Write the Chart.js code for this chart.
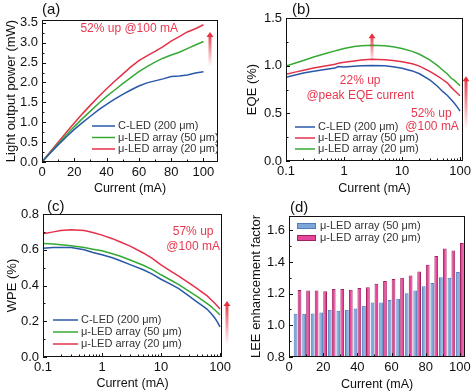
<!DOCTYPE html>
<html>
<head>
<meta charset="utf-8">
<script src="https://cdn.jsdelivr.net/npm/chart.js@4.4.0/dist/chart.umd.min.js"></script>
<style>
body { margin: 0; background: #fff; }
canvas { position: absolute; }
</style>
</head>
<body>
<canvas id="chartA" width="237" height="195" style="left:0;top:0"></canvas>
<canvas id="chartB" width="237" height="195" style="left:237px;top:0"></canvas>
<canvas id="chartC" width="237" height="196" style="left:0;top:195px"></canvas>
<canvas id="chartD" width="237" height="196" style="left:237px;top:195px"></canvas>
<script>
const FONT = '"Liberation Sans", Arial, sans-serif';
const RED = '#E5304A', GREEN = '#36A935', BLUE = '#2A58A8', NOTE = '#E8384F';

// (a) light output power vs current
const aCurrent = [0, 5, 10, 15, 20, 25, 30, 35, 40, 45, 50, 55, 60, 65, 70, 75, 80, 85, 90, 95, 100];
const aCLED = [0, 0.22, 0.43, 0.63, 0.82, 0.99, 1.15, 1.31, 1.45, 1.58, 1.70, 1.81, 1.91, 1.99, 2.04, 2.09, 2.15, 2.16, 2.19, 2.24, 2.27];
const a50 = [0, 0.23, 0.46, 0.68, 0.89, 1.09, 1.28, 1.47, 1.65, 1.81, 1.97, 2.12, 2.27, 2.40, 2.51, 2.61, 2.69, 2.76, 2.85, 2.94, 3.03];
const a20 = [0, 0.25, 0.50, 0.74, 0.98, 1.21, 1.43, 1.64, 1.84, 2.03, 2.21, 2.39, 2.55, 2.67, 2.78, 2.90, 3.04, 3.15, 3.27, 3.35, 3.45];
const aTicksX = [0, 20, 40, 60, 80, 100];
const aTicksY = [0, 0.5, 1.0, 1.5, 2.0, 2.5, 3.0, 3.5];

// (b) EQE vs current (log)
const bCurrent = [0.1, 0.15, 0.2, 0.3, 0.5, 0.7, 0.8, 1, 1.5, 2, 3, 5, 7, 10, 15, 20, 30, 40, 50, 60, 70, 80, 90, 100];
const bCLED = [0.877, 0.905, 0.922, 0.942, 0.962, 0.975, 0.99, 0.985, 0.995, 1.0, 1.003, 0.998, 0.988, 0.972, 0.945, 0.915, 0.85, 0.79, 0.73, 0.69, 0.645, 0.605, 0.565, 0.523];
const b50 = [0.91, 0.935, 0.952, 0.975, 1.0, 1.015, 1.025, 1.035, 1.05, 1.06, 1.066, 1.063, 1.055, 1.042, 1.02, 0.995, 0.94, 0.895, 0.855, 0.82, 0.775, 0.74, 0.71, 0.685];
const b20 = [0.995, 1.03, 1.055, 1.09, 1.13, 1.155, 1.165, 1.18, 1.2, 1.21, 1.215, 1.21, 1.198, 1.18, 1.15, 1.12, 1.06, 1.005, 0.955, 0.915, 0.87, 0.845, 0.815, 0.79];
const logTicks = [0.1, 1, 10, 100];
const bTicksY = [0, 0.5, 1.0, 1.5];

// (c) WPE vs current (log)
const cCurrent = [0.1, 0.15, 0.2, 0.3, 0.5, 0.7, 1, 1.5, 2, 3, 5, 7, 10, 15, 20, 30, 40, 50, 60, 70, 80, 90, 100];
const cCLED = [0.608, 0.612, 0.613, 0.612, 0.600, 0.585, 0.572, 0.555, 0.540, 0.517, 0.488, 0.465, 0.435, 0.405, 0.382, 0.340, 0.310, 0.287, 0.268, 0.245, 0.222, 0.197, 0.168];
const c50 = [0.635, 0.632, 0.628, 0.622, 0.612, 0.603, 0.594, 0.578, 0.565, 0.543, 0.513, 0.49, 0.46, 0.428, 0.405, 0.367, 0.340, 0.318, 0.30, 0.283, 0.266, 0.25, 0.235];
const c20 = [0.69, 0.70, 0.708, 0.712, 0.708, 0.697, 0.682, 0.662, 0.645, 0.62, 0.582, 0.553, 0.515, 0.478, 0.453, 0.413, 0.385, 0.362, 0.343, 0.322, 0.303, 0.285, 0.268];
const cTicksY = [0, 0.2, 0.4, 0.6, 0.8];

// (d) LEE enhancement factor
const dCurrent = [5, 10, 15, 20, 25, 30, 35, 40, 45, 50, 55, 60, 65, 70, 75, 80, 85, 90, 95, 100];
const d50 = [1.073, 1.073, 1.075, 1.081, 1.098, 1.092, 1.098, 1.106, 1.123, 1.144, 1.144, 1.16, 1.167, 1.202, 1.22, 1.246, 1.267, 1.304, 1.30, 1.337];
const d20 = [1.223, 1.219, 1.219, 1.215, 1.229, 1.229, 1.225, 1.235, 1.24, 1.262, 1.279, 1.292, 1.30, 1.315, 1.34, 1.383, 1.437, 1.485, 1.473, 1.519];
const dTicksY = [0.8, 1.0, 1.2, 1.4, 1.6];

const pts = (xs, ys) => xs.map((x, i) => ({x: x, y: ys[i]}));
const fix1 = v => Number(v).toFixed(1);

function drawArrow(ctx, x, yTop, yBot) {
    const g = ctx.createLinearGradient(0, yBot, 0, yTop);
    g.addColorStop(0, 'rgba(232,48,63,0)');
    g.addColorStop(1, 'rgba(232,48,63,1)');
    ctx.fillStyle = g;
    ctx.fillRect(x - 1.5, yTop + 3, 3, yBot - yTop - 3);
    ctx.fillStyle = '#E8303F';
    ctx.beginPath();
    ctx.moveTo(x - 3.5, yTop + 5);
    ctx.lineTo(x + 3.5, yTop + 5);
    ctx.lineTo(x, yTop);
    ctx.closePath();
    ctx.fill();
}

const deco = {
    id: 'deco',
    afterDatasetsDraw(chart, args, o) {
        const {ctx, chartArea: ca, scales} = chart;
        const xs = scales.x, ys = scales.y;
        ctx.save();
        // frame
        ctx.strokeStyle = '#111';
        ctx.lineWidth = 1;
        ctx.strokeRect(Math.round(ca.left) + 0.5, Math.round(ca.top) + 0.5, Math.round(ca.width) - 1, Math.round(ca.height) - 1);
        // inward ticks
        ctx.beginPath();
        const tx = (v, len) => { const p = Math.round(xs.getPixelForValue(v)) + 0.5; ctx.moveTo(p, ca.bottom); ctx.lineTo(p, ca.bottom - len); };
        const ty = (v, len) => { const p = Math.round(ys.getPixelForValue(v)) + 0.5; ctx.moveTo(ca.left, p); ctx.lineTo(ca.left + len, p); };
        xs.ticks.forEach(t => tx(t.value, 4));
        ys.ticks.forEach(t => ty(t.value, 4));
        (o.minorX || []).forEach(v => tx(v, 2.5));
        (o.minorY || []).forEach(v => ty(v, 2.5));
        ctx.stroke();
        // panel label
        ctx.fillStyle = '#111';
        ctx.font = '15px ' + FONT;
        ctx.textBaseline = 'middle';
        ctx.textAlign = 'left';
        ctx.fillText(o.label, ca.left + o.labelDx, ca.top + o.labelDy);
        // legend
        const lg = o.legend;
        ctx.font = '11px ' + FONT;
        lg.items.forEach((it, i) => {
            const x0 = ca.left + lg.x, y0 = ca.top + lg.y + i * lg.gap;
            if (lg.box) {
                ctx.fillStyle = it.fill;
                ctx.fillRect(x0, y0 - 3, lg.len, 6);
                ctx.strokeStyle = it.color;
                ctx.strokeRect(x0 + 0.5, y0 - 2.5, lg.len - 1, 5);
            } else {
                ctx.strokeStyle = it.color;
                ctx.lineWidth = 1.5;
                ctx.beginPath();
                ctx.moveTo(x0, y0);
                ctx.lineTo(x0 + lg.len, y0);
                ctx.stroke();
            }
            ctx.fillStyle = '#333';
            ctx.fillText(it.text, x0 + lg.len + (lg.box ? 4 : 3), y0);
        });
        // notes
        ctx.font = '12px ' + FONT;
        ctx.textAlign = 'center';
        ctx.fillStyle = NOTE;
        (o.notes || []).forEach(n => ctx.fillText(n.text, xs.getPixelForValue(n.x), ys.getPixelForValue(n.y)));
        (o.arrows || []).forEach(a => drawArrow(ctx, Math.round(xs.getPixelForValue(a.x)), ys.getPixelForValue(a.top), ys.getPixelForValue(a.bot)));
        ctx.restore();
    }
};

function axis(c) {
    return {
        type: c.type || 'linear',
        min: c.min,
        max: c.max,
        offset: false,
        grid: {display: false, drawTicks: false, offset: false},
        border: {display: false},
        afterBuildTicks: s => { s.ticks = c.ticks.map(v => ({value: v})); },
        afterFit: s => { if (s.isHorizontal()) s.height = c.size; else s.width = c.size; },
        ticks: {autoSkip: false, maxRotation: 0, padding: c.pad, color: '#111',
                font: {family: FONT, size: 13}, callback: c.fmt},
        title: {display: true, text: c.title, color: '#111',
                font: {family: FONT, size: c.tsize || 13, lineHeight: 1},
                padding: {top: c.tpad, bottom: c.tpad}}
    };
}

function line(label, data, color) {
    return {label: label, data: data, borderColor: color, backgroundColor: color,
            borderWidth: 1.5, pointRadius: 0, showLine: true, tension: 0};
}

const common = {
    responsive: false,
    animation: false,
    plugins: {legend: {display: false}, tooltip: {enabled: false}}
};

const logMinor = [0.2, 0.3, 0.4, 0.5, 0.6, 0.7, 0.8, 0.9, 2, 3, 4, 5, 6, 7, 8, 9, 20, 30, 40, 50, 60, 70, 80, 90];

// (a)
new Chart(document.getElementById('chartA'), {
    type: 'scatter',
    data: {datasets: [
        line('C-LED (200 μm)', pts(aCurrent, aCLED), BLUE),
        line('μ-LED array (50 μm)', pts(aCurrent, a50), GREEN),
        line('μ-LED array (20 μm)', pts(aCurrent, a20), RED)
    ]},
    options: Object.assign({}, common, {
        layout: {padding: {left: 0, top: 20, right: 19, bottom: 0}},
        scales: {
            x: axis({min: 0, max: 109, ticks: aTicksX, size: 33, pad: 3, title: 'Current (mA)', tsize: 12.5, tpad: 0, fmt: v => String(v)}),
            y: axis({min: 0, max: 3.57, ticks: aTicksY, size: 42, pad: 4, title: 'Light output power (mW)', tpad: 4.5, fmt: fix1})
        },
        plugins: Object.assign({}, common.plugins, {deco: {
            label: '(a)', labelDx: 0, labelDy: -10,
            minorX: [10, 30, 50, 70, 90], minorY: [0.25, 0.75, 1.25, 1.75, 2.25, 2.75, 3.25],
            legend: {x: 50, y: 106, gap: 11.5, len: 23, items: [
                {text: 'C-LED (200 μm)', color: BLUE},
                {text: 'μ-LED array (50 μm)', color: GREEN},
                {text: 'μ-LED array (20 μm)', color: RED}]},
            notes: [{text: '52% up @100 mA', x: 54, y: 3.35}],
            arrows: [{x: 104.3, top: 3.27, bot: 2.40}]
        }})
    }),
    plugins: [deco]
});

// (b)
new Chart(document.getElementById('chartB'), {
    type: 'scatter',
    data: {datasets: [
        line('C-LED (200 μm)', pts(bCurrent, bCLED), BLUE),
        line('μ-LED array (50 μm)', pts(bCurrent, b50), RED),
        line('μ-LED array (20 μm)', pts(bCurrent, b20), GREEN)
    ]},
    options: Object.assign({}, common, {
        layout: {padding: {left: 0, top: 18, right: 7, bottom: 0}},
        scales: {
            x: axis({type: 'logarithmic', min: 0.1, max: 112, ticks: logTicks, size: 34, pad: 3, title: 'Current (mA)', tsize: 12.5, tpad: 0, fmt: v => String(v)}),
            y: axis({min: 0, max: 1.5, ticks: bTicksY, size: 49, pad: 4, title: 'EQE (%)', tpad: 8.5, fmt: fix1})
        },
        plugins: Object.assign({}, common.plugins, {deco: {
            label: '(b)', labelDx: 6, labelDy: -8,
            minorX: logMinor, minorY: [0.25, 0.75, 1.25],
            legend: {x: 9, y: 109, gap: 11, len: 20, items: [
                {text: 'C-LED (200 μm)', color: BLUE},
                {text: 'μ-LED array (50 μm)', color: RED},
                {text: 'μ-LED array (20 μm)', color: GREEN}]},
            notes: [
                {text: '22% up', x: 1.9, y: 0.84},
                {text: '@peak EQE current', x: 1.9, y: 0.68},
                {text: '52% up', x: 32, y: 0.50},
                {text: '@100 mA', x: 33, y: 0.357}],
            arrows: [{x: 3.05, top: 1.34, bot: 1.03}, {x: 126, top: 0.89, bot: 0.33}]
        }})
    }),
    plugins: [deco]
});

// (c)
new Chart(document.getElementById('chartC'), {
    type: 'scatter',
    data: {datasets: [
        line('C-LED (200 μm)', pts(cCurrent, cCLED), BLUE),
        line('μ-LED array (50 μm)', pts(cCurrent, c50), GREEN),
        line('μ-LED array (20 μm)', pts(cCurrent, c20), RED)
    ]},
    options: Object.assign({}, common, {
        layout: {padding: {left: 0, top: 19, right: 15, bottom: 0}},
        scales: {
            x: axis({type: 'logarithmic', min: 0.1, max: 108, ticks: logTicks, size: 34, pad: 3, title: 'Current (mA)', tsize: 12.5, tpad: 0.75, fmt: v => String(v)}),
            y: axis({min: 0, max: 0.8, ticks: cTicksY, size: 43, pad: 4, title: 'WPE (%)', tpad: 6, fmt: fix1})
        },
        plugins: Object.assign({}, common.plugins, {deco: {
            label: '(c)', labelDx: 4, labelDy: -7,
            minorX: logMinor, minorY: [0.1, 0.3, 0.5, 0.7],
            legend: {x: 10, y: 106, gap: 12, len: 25, items: [
                {text: 'C-LED (200 μm)', color: BLUE},
                {text: 'μ-LED array (50 μm)', color: GREEN},
                {text: 'μ-LED array (20 μm)', color: RED}]},
            notes: [{text: '57% up', x: 35, y: 0.70}, {text: '@100 mA', x: 35, y: 0.615}],
            arrows: [{x: 131, top: 0.313, bot: 0.07}]
        }})
    }),
    plugins: [deco]
});

// (d)
new Chart(document.getElementById('chartD'), {
    type: 'bar',
    data: {datasets: [
        {label: 'μ-LED array (50 μm)', data: pts(dCurrent, d50), backgroundColor: '#7EA7DA', borderColor: '#4F7EBD', borderWidth: 1,
         categoryPercentage: 0.92, barPercentage: 0.95},
        {label: 'μ-LED array (20 μm)', data: pts(dCurrent, d20), backgroundColor: '#E5459A', borderColor: '#A3205E', borderWidth: 1,
         categoryPercentage: 0.92, barPercentage: 0.95}
    ]},
    options: Object.assign({}, common, {
        layout: {padding: {left: 0, top: 21, right: 8, bottom: 0}},
        scales: {
            x: axis({min: 0, max: 103, ticks: aTicksX, size: 34, pad: 3, title: 'Current (mA)', tsize: 12.5, tpad: 0, fmt: v => String(v)}),
            y: axis({min: 0.8, max: 1.69, ticks: dTicksY, size: 52, pad: 4, title: 'LEE enhancement factor', tpad: 12.5, fmt: fix1})
        },
        plugins: Object.assign({}, common.plugins, {deco: {
            label: '(d)', labelDx: 1, labelDy: -8,
            minorX: [10, 30, 50, 70, 90], minorY: [0.9, 1.1, 1.3, 1.5],
            legend: {x: 8, y: 10, gap: 12, len: 19, box: true, items: [
                {text: 'μ-LED array (50 μm)', color: '#4F7EBD', fill: '#7EA7DA'},
                {text: 'μ-LED array (20 μm)', color: '#A3205E', fill: '#E5459A'}]}
        }})
    }),
    plugins: [deco]
});
</script>
</body>
</html>
